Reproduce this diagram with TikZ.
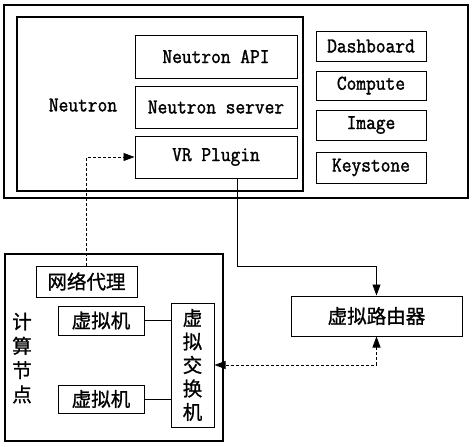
\documentclass[tikz,border=0pt]{standalone}
\usepackage{fontspec}
\setmonofont[FakeStretch=0.9,FakeBold=1.5]{Latin Modern Mono}
\newfontfamily\cjk[FakeBold=1]{Noto Sans CJK SC}
\usetikzlibrary{arrows.meta,calc}
\begin{document}
\begin{tikzpicture}[x=1pt,y=-1pt,
  box/.style={draw,line width=1pt,inner sep=0pt,font=\ttfamily\fontsize{21}{24}\selectfont},
  cbox/.style={draw,line width=1pt,inner sep=0pt,font=\cjk\fontsize{19.5}{23.5}\selectfont},
  frame/.style={draw,line width=1.2pt,inner sep=0pt},
  conn/.style={line width=0.8pt},
  dconn/.style={line width=0.8pt,dash pattern=on 3pt off 2pt},
  tip/.style={-{Triangle[length=11pt,width=8pt]}}
]
\useasboundingbox (0,0) rectangle (474,447);
% top frame
\node[frame,minimum width=464,minimum height=193] (top) at (236,101.5) {};
\node[frame,minimum width=286,minimum height=174] (neutron) at (160,104) {};
\node[font=\ttfamily\fontsize{21}{24}\selectfont] (nlabel) at (83,105) {Neutron};
\node[box,minimum width=162,minimum height=43] (api) at (216,56.5) {Neutron API};
\node[box,minimum width=162,minimum height=42] (server) at (216,107) {Neutron server};
\node[box,minimum width=162,minimum height=42] (vr) at (216,157) {VR Plugin};
\node[box,minimum width=110,minimum height=30] (dash) at (371,46) {Dashboard};
\node[box,minimum width=110,minimum height=29] (comp) at (371,85.5) {Compute};
\node[box,minimum width=110,minimum height=30] (img) at (371,125) {Image};
\node[box,minimum width=110,minimum height=31] (key) at (371,167.5) {Keystone};
% compute node
\node[frame,minimum width=218,minimum height=187] (cnode) at (114,347.5) {};
\node[font=\cjk\fontsize{19.5}{24.3}\selectfont,align=center,inner sep=0pt] (clabel) at (22,358) {计\\算\\节\\点};
\node[cbox,minimum width=101,minimum height=31] (agent) at (86.5,281.5) {网络代理};
\node[cbox,minimum width=86,minimum height=29] (vm1) at (101,320.5) {虚拟机};
\node[cbox,minimum width=86,minimum height=28] (vm2) at (101,399) {虚拟机};
\node[cbox,minimum width=43,minimum height=124,align=center] (vsw) at (192.5,365) {虚\\拟\\交\\换\\机};
\node[cbox,minimum width=171,minimum height=40] (router) at (376.5,316) {虚拟路由器};
% connectors
\draw[conn] (vm1.east) -- (vm1.east -| vsw.west);
\draw[conn] (vm2.east) -- (vm2.east -| vsw.west);
\draw[dconn,tip] (agent.north) |- (vr.west);
\coordinate (c1) at (237,266);
\draw[conn,tip] (vr.south -| c1) -- (c1) -| (router.north);
\draw[dconn,{Triangle[length=11pt,width=8pt]}-{Triangle[length=11pt,width=8pt]}] (router.south) |- (vsw.east);
\end{tikzpicture}
\end{document}
